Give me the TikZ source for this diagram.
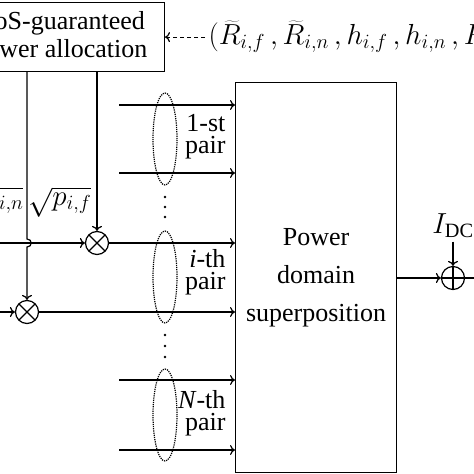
\RequirePackage{fix-cm}
\documentclass[tikz,border=0pt]{standalone}
\usepackage{fontspec}
\setmainfont{Liberation Serif}
\usetikzlibrary{arrows.meta, positioning, shapes.geometric}

\begin{document}
\begin{tikzpicture}[
            x=1pt, y=-1pt,
            every node/.style={font=\fontsize{26}{28}\selectfont},
            box/.style={
                    draw,
                    line width=1.2pt,
                    align=center
                },
            mult/.style={
                    draw,
                    circle,
                    line width=1.2pt,
                    minimum size=23pt,
                    inner sep=0pt,
                    path picture={
                            \draw[line width=1.2pt]
                            (path picture bounding box.north west) -- (path picture bounding box.south east)
                            (path picture bounding box.north east) -- (path picture bounding box.south west);
                        }
                },
            adder/.style={
                    draw,
                    circle,
                    line width=1.2pt,
                    minimum size=23pt,
                    inner sep=0pt,
                    path picture={
                            \draw[line width=1.2pt]
                            (path picture bounding box.north) -- (path picture bounding box.south)
                            (path picture bounding box.west) -- (path picture bounding box.east);
                        }
                },
            pairring/.style={
                    draw,
                    ellipse,
                    densely dotted,
                    line width=1.2pt,
                    minimum width=24pt,
                    minimum height=92pt
                },
            pairlabel/.style={
                    anchor=east,
                    align=right,
                    font=\fontsize{26}{22}\selectfont
                },
            mathlabel/.style={font=\fontsize{29}{32}\selectfont},
            arrow/.style={
                    -{To[length=5pt,width=10pt]},
                    line width=1.2pt
                },
            line/.style={line width=1.2pt}
        ]

        \useasboundingbox (0,0) rectangle (474,474);
        \clip (0,0) rectangle (474,474);

        \node[box, anchor=north east, inner xsep=17pt, minimum height=69pt] (alloc) at (165,2)
        {
            QoS-guaranteed\\
            power allocation
        };

        \node[mathlabel, anchor=west] (params) at ([xshift=40pt]alloc.east)
        {$(\widetilde{R}_{i,f}\,,\widetilde{R}_{i,n}\,,h_{i,f}\,,h_{i,n}\,,P_{i})$};

        \node[box, anchor=north west, minimum width=161pt, minimum height=390pt,
            font=\fontsize{26}{38}\selectfont] (sps) at (235,82)
        {
            Power\\
            domain\\
            superposition
        };

        \node[mult] (mulf) at (97,243) {};
        \node[mult] (muln) at (27,312) {};
        \node[adder] (adder) at (453,278) {};
        \node[mathlabel] (idc) at (453,226) {$I_{\mathrm{DC}}$};

        \node[mathlabel, anchor=east] (sqrtf) at (95,202) {$\sqrt{p_{i,f}}$};
        \node[mathlabel, anchor=east] (sqrtn) at (27,202) {$\sqrt{p_{i,n}}$};

        \node[pairring] (pair1) at (165,139) {};
        \node[pairring] (pair2) at (165,277) {};
        \node[pairring] (pair3) at (165,415) {};

        \node[pairlabel] (lab1) at (229,137) {1-st\\pair};
        \node[pairlabel] (lab2) at (229,272) {\textit{i}-th\\pair};
        \node[pairlabel] (lab3) at (229,413) {\textit{N}-th\\pair};

        \foreach \y in {197,207,217,335,346,357}
        \fill (165,\y) circle (1.4pt);

        % pair inputs
        \foreach \y [count=\k] in {105,173,380,450} {
                \coordinate (src\k) at (119,\y);
                \draw[arrow] (src\k) -- (src\k -| sps.west);
            }

        \coordinate (srcf) at (-5,243);
        \coordinate (srcn) at (-5,312);
        \coordinate (out) at (480,278);

        \draw[arrow, dash pattern=on 4pt off 3pt] (params) -- (alloc);

        \draw[arrow] (srcf) -- (mulf);
        \draw[arrow] (mulf) -- (mulf -| sps.west);
        \draw[arrow] (srcn) -- (muln);
        \draw[arrow] (muln) -- (muln -| sps.west);

        \draw[arrow] (alloc.south -| mulf) -- (mulf);
        \draw[arrow] (alloc.south -| muln) -- ([yshift=4pt]muln |- mulf)
        to[out=0, in=0, looseness=1.8] ([yshift=-4pt]muln |- mulf) -- (muln);

        \draw[arrow] (sps.east |- adder) -- (adder);
        \draw[arrow] (idc) -- (adder);
        \draw[line] (adder) -- (out);

    \end{tikzpicture}
\end{document}
